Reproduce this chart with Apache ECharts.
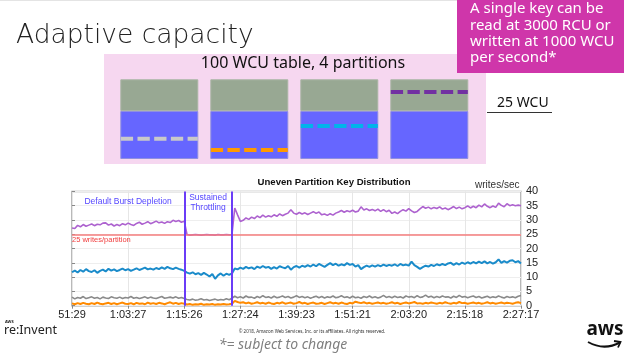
<!DOCTYPE html>
<html><head><meta charset="utf-8">
<script src="https://cdn.jsdelivr.net/npm/echarts@6/dist/echarts.min.js"></script>
<style>html,body{margin:0;padding:0;background:#fff}#c{width:624px;height:357px}</style>
</head><body><div id="c"></div>
<script>
// ---- Main chart data ----
const xTickLabels = ['51:29','1:03:27','1:15:26','1:27:24','1:39:23','1:51:21','2:03:20','2:15:18','2:27:17'];
const samplesPerTick = 20;
const yMin = 0, yMax = 40, yStep = 5;
const throttleStart = 40, throttleEnd = 57;
const partitionLimit = 25;

const purple = [
27.2,27.0,28.1,27.6,28.4,27.8,28.2,28.6,28.0,28.5,28.3,28.9,29.0,28.2,28.6,27.9,28.4,28.0,28.7,28.3,
28.9,28.4,28.1,28.8,29.2,28.5,28.9,29.4,28.7,29.1,29.6,29.0,29.3,28.8,29.4,29.1,29.9,29.5,29.8,29.2,29.6,
24.9,24.7,24.8,24.9,24.8,24.7,24.8,24.9,24.8,24.8,24.7,24.9,24.8,24.8,24.9,24.8,24.9,
34.2,31.8,29.5,29.9,30.7,30.2,31.0,30.5,31.4,30.8,31.7,31.0,31.5,31.1,31.8,31.3,32.1,31.5,32.0,32.4,
33.6,32.4,32.0,32.6,32.1,32.5,31.9,32.4,32.9,32.3,32.8,31.8,32.1,31.6,32.2,31.7,32.4,32.8,33.3,32.7,
33.2,32.9,33.4,32.8,33.1,34.6,33.5,33.9,33.3,33.7,33.2,33.8,33.0,33.6,32.9,33.4,32.3,32.8,32.2,33.0,
33.6,33.1,34.0,33.2,32.6,33.0,33.9,34.7,34.1,34.5,33.9,34.4,34.0,34.6,33.8,34.2,33.6,34.1,34.7,34.0,
34.5,33.9,34.3,34.9,34.2,34.8,34.3,35.2,34.6,35.6,34.8,34.3,34.9,34.4,35.9,35.1,34.6,35.7,35.0,35.3,
35.0,35.2,35.0
];
const blue = [
11.7,12.3,11.6,12.5,11.9,12.8,12.1,11.8,12.4,11.5,12.2,12.6,12.0,12.9,12.3,12.7,12.1,12.5,13.0,12.4,
12.8,12.2,12.6,13.1,12.5,12.9,13.3,12.7,13.0,12.6,13.2,12.8,13.4,12.9,13.6,13.1,12.8,13.3,12.9,12.6,12.2,
11.6,11.2,11.7,11.0,11.4,10.8,11.5,10.9,10.2,11.1,9.4,10.6,11.3,10.5,11.2,10.8,11.3,
13.0,12.7,13.3,12.9,13.6,13.1,13.4,12.8,13.7,13.2,13.9,13.3,13.6,12.9,13.5,13.0,13.8,13.4,13.1,13.9,
12.6,13.5,13.9,13.3,14.0,13.6,14.2,13.7,14.4,13.8,14.6,14.1,13.6,14.3,14.9,14.2,14.7,14.0,14.5,14.1,
14.9,14.3,14.6,13.7,14.2,12.8,13.5,14.0,13.6,14.1,13.7,14.2,13.8,14.4,13.9,14.3,14.0,14.5,13.9,14.6,
14.1,14.4,14.0,15.4,14.2,13.6,12.9,13.5,14.0,13.7,14.3,13.9,14.5,14.1,14.6,14.2,14.8,15.0,14.3,14.9,
14.4,15.1,14.6,15.2,14.7,15.3,14.8,15.4,14.9,15.5,14.8,15.3,14.7,15.2,16.2,15.0,15.6,15.1,15.7,15.9,
15.2,15.6,14.8
];
const gray = [
3.0,2.4,2.9,2.6,3.2,2.5,2.8,3.1,2.6,2.9,2.4,3.0,2.7,2.5,3.1,2.8,2.6,3.0,2.5,2.9,
2.7,3.2,2.6,2.9,2.5,2.8,3.1,2.6,3.0,2.7,2.5,2.9,3.2,2.6,2.8,3.0,2.7,3.1,2.6,2.9,2.5,
2.2,2.0,2.3,1.9,2.1,2.4,2.0,2.2,1.8,2.1,2.3,1.9,2.2,2.0,2.4,2.1,2.6,
3.3,2.8,3.1,2.7,3.4,2.9,3.0,2.6,3.2,2.8,3.5,2.9,3.1,2.7,3.3,2.8,3.0,3.4,2.9,3.2,
2.7,3.0,3.5,2.9,3.2,2.8,3.1,2.6,3.0,3.3,2.8,3.2,2.7,3.1,2.9,3.4,2.8,3.0,3.5,2.9,
3.1,2.7,3.3,2.8,3.0,2.6,3.2,2.9,3.4,2.8,3.1,2.7,3.0,3.6,2.9,3.2,2.8,3.3,2.9,3.1,
2.7,3.4,3.0,3.2,2.8,3.5,2.9,3.1,3.7,3.0,3.3,2.8,3.2,2.9,3.4,3.0,3.1,2.7,3.3,2.9,
3.6,3.0,3.2,2.8,3.1,3.4,2.9,3.2,2.7,3.0,3.3,2.8,3.1,2.9,3.4,3.0,2.7,3.2,2.9,3.1,
2.8,3.3,3.6
];
const orange = [
0.8,0.5,0.9,0.6,1.0,0.7,0.5,0.9,0.6,1.1,0.7,0.5,0.8,1.0,0.6,0.9,0.5,0.8,1.1,0.7,
0.6,0.9,0.5,1.0,0.7,0.8,0.5,1.1,0.7,0.9,0.6,1.0,0.8,0.5,0.9,1.2,0.7,1.0,0.6,0.9,0.7,
0.4,0.6,0.3,0.5,0.4,0.7,0.3,0.5,0.4,0.6,0.3,0.5,0.4,0.6,0.4,0.5,0.7,
1.7,1.3,1.0,1.2,0.8,1.1,0.7,0.9,1.2,0.8,1.0,0.7,1.1,0.8,0.6,1.0,0.8,1.2,0.7,0.9,
1.1,0.7,0.9,1.3,0.8,1.0,0.6,0.9,1.1,0.7,0.8,1.0,0.6,0.9,1.2,0.8,1.0,0.7,1.1,0.8,
0.6,1.0,0.8,1.4,1.1,0.9,1.2,0.8,1.0,0.7,0.9,1.1,0.8,1.0,0.7,0.9,1.2,0.8,1.0,0.6,
0.9,1.1,0.8,1.0,1.3,0.8,0.9,0.7,1.0,0.8,1.1,0.9,0.7,1.0,0.8,1.2,0.9,0.7,1.0,0.8,
1.3,0.9,1.0,0.7,0.9,1.1,0.8,1.0,0.7,0.9,1.2,0.8,1.0,0.7,0.9,1.1,0.8,1.0,0.9,0.7,
1.0,1.2,0.9
];

// ---- Partition illustration data ----
const partitions = ['P1','P2','P3','P4'];
const partitionBase = [25,25,25,25];
const partitionHeadroom = [16.5,16.5,16.5,16.5];
const partitionUsage = [10.6,4.7,17.2,34.9];
const usageColors = ['#C9C9C9','#FF9A00','#00B4EA','#7230A2'];

const xMax = (xTickLabels.length - 1) * samplesPerTick;
const toXY = arr => arr.map((v,i)=>[i,v]);
const chartFont = '"Liberation Sans", Arial, sans-serif';
const slideFont = '"Noto Sans", "Open Sans", sans-serif';

const chart = echarts.init(document.getElementById('c'), null, {renderer:'canvas'});
chart.setOption({
  animation:false,
  backgroundColor:'#ffffff',
  title:[
    {text:'Adaptive capacity', left:11, top:18,
     textStyle:{fontSize:26.5, fontWeight:200, fontFamily:'"DejaVu Sans", sans-serif', color:'#222'}},
    {text:'Uneven Partition Key Distribution', left:329, top:172, textAlign:'center',
     textStyle:{fontSize:9.6, fontWeight:'bold', fontFamily:chartFont, color:'#111'}}
  ],
  graphic:[
    {type:'rect', z:-10, shape:{x:0,y:0,width:624,height:1}, style:{fill:'#e4e4e4'}},
    {type:'rect', z:-10, shape:{x:104,y:54,width:382,height:110}, style:{fill:'#F6D7F0'}},
    {type:'rect', z:-9, shape:{x:457,y:0,width:167,height:73}, style:{fill:'#CF36AA'}},
    {type:'text', z:-8, x:470, y:1, style:{text:'A single key can be\nread at 3000 RCU or\nwritten at 1000 WCU\nper second*',
      fill:'#ffffff', font:'15px '+slideFont, lineHeight:16.2}},
    {type:'text', z:-8, x:303, y:63.5, style:{text:'100 WCU table, 4 partitions', fill:'#111',
      font:'16px '+slideFont, align:'center', verticalAlign:'middle', textAlign:'center', textVerticalAlign:'middle'}},
    {type:'text', z:-8, x:497, y:103, style:{text:'25 WCU', fill:'#111',
      font:'14px '+slideFont, verticalAlign:'middle', textVerticalAlign:'middle'}},
    {type:'line', z:-8, shape:{x1:487,y1:112.5,x2:552,y2:112.5}, style:{stroke:'#333', lineWidth:1}},
    {type:'text', x:519.5, y:185, style:{text:'writes/sec', fill:'#333', font:'10px '+chartFont,
      align:'right', verticalAlign:'middle', textAlign:'right', textVerticalAlign:'middle'}},
    {type:'text', x:5, y:322, style:{text:'AWS', fill:'#222', font:'bold 4px '+slideFont,
      verticalAlign:'middle', textVerticalAlign:'middle'}},
    {type:'text', x:4, y:330, style:{text:'re:Invent', fill:'#222', font:'12.5px '+slideFont,
      verticalAlign:'middle', textVerticalAlign:'middle'}},
    {type:'text', x:312, y:332, style:{text:'\u00a9 2018, Amazon Web Services, Inc. or its affiliates. All rights reserved.',
      fill:'#333', font:'4.5px '+slideFont, align:'center', verticalAlign:'middle', textAlign:'center', textVerticalAlign:'middle'}},
    {type:'text', x:283, y:345, style:{text:'*= subject to change', fill:'#808080',
      font:'italic 14px '+slideFont, align:'center', verticalAlign:'middle', textAlign:'center', textVerticalAlign:'middle'}},
    {type:'text', x:605, y:330, style:{text:'aws', fill:'#111',
      font:'bold 19px '+slideFont, align:'center', verticalAlign:'middle', textAlign:'center', textVerticalAlign:'middle'}},
    {type:'bezierCurve', shape:{x1:588,y1:342,x2:620,y2:342.5,cpx1:604,cpy1:351}, style:{stroke:'#111', lineWidth:2, fill:null}},
    {type:'polyline', shape:{points:[[614,341],[620.5,342],[618,347.5]]}, style:{stroke:'#111', lineWidth:1.8, fill:null}}
  ],
  grid:[
    {left:72, top:191.4, width:449, height:114.3, show:true, borderColor:'#a3a3a3', borderWidth:1.5, backgroundColor:'#fff'},
    {left:114.3, top:79.3, width:360, height:79.7}
  ],
  xAxis:[
    {gridIndex:0, type:'value', min:0, max:xMax, interval:samplesPerTick,
     axisLine:{show:false},
     axisTick:{show:true, length:3, lineStyle:{color:'#888'}},
     splitLine:{show:true, lineStyle:{color:'#e6e6e6', width:1}},
     axisLabel:{formatter:v=>xTickLabels[Math.round(v/samplesPerTick)], color:'#222', fontSize:11, fontFamily:chartFont, margin:4}},
    {gridIndex:1, type:'category', data:partitions, show:false}
  ],
  yAxis:[
    {gridIndex:0, type:'value', position:'right', min:yMin, max:yMax, interval:yStep,
     axisLine:{show:false},
     axisTick:{show:true, length:3, lineStyle:{color:'#888'}},
     splitLine:{show:true, lineStyle:{color:'#eeeeee', width:1}},
     axisLabel:{color:'#222', fontSize:11, fontFamily:chartFont, margin:5}},
    {gridIndex:1, type:'value', min:0, max:41.5, show:false}
  ],
  series:[
    {type:'bar', xAxisIndex:1, yAxisIndex:1, stack:'p', data:partitionBase, barWidth:78,
     itemStyle:{color:'#6666FF', borderColor:'#8f8fe0', borderWidth:1}},
    {type:'bar', xAxisIndex:1, yAxisIndex:1, stack:'p', data:partitionHeadroom, barWidth:78,
     itemStyle:{color:'#98A893', borderColor:'#aab5a6', borderWidth:1}},
    {type:'custom', xAxisIndex:1, yAxisIndex:1, z:5, data:toXY(partitionUsage),
     renderItem:(params, api)=>{
       const p = api.coord([api.value(0), api.value(1)]);
       const half = api.size([1,0])[0]*0.867/2 - 0.5;
       return {type:'line', shape:{x1:p[0]-half, y1:p[1], x2:p[0]+half, y2:p[1]},
               style:{stroke:usageColors[params.dataIndex], lineWidth:4, lineDash:[12.3,4.4]}};
     }},
    {name:'orange', type:'line', xAxisIndex:0, yAxisIndex:0, data:toXY(orange), showSymbol:false,
     lineStyle:{color:'#FF8A00', width:2}, z:3,
     markArea:{silent:true, itemStyle:{color:'rgba(0,0,0,0)'},
       label:{position:'insideTop', color:'#5546ff', fontSize:8.5, fontFamily:chartFont, lineHeight:10},
       data:[
         [{name:'Default Burst Depletion', xAxis:0, label:{distance:5}},{xAxis:throttleStart}],
         [{name:'Sustained\nThrottling', xAxis:throttleStart, label:{distance:1.5}},{xAxis:throttleEnd}]
       ]}},
    {name:'gray', type:'line', xAxisIndex:0, yAxisIndex:0, data:toXY(gray), showSymbol:false,
     lineStyle:{color:'#8a8a8a', width:1.6}, z:3,
     markLine:{silent:true, symbol:'none', data:[{yAxis:partitionLimit}],
       lineStyle:{color:'#F47C7C', width:1.5, type:'solid'},
       label:{show:true, position:'insideStartBottom', formatter:'25 writes/partition', color:'#F03C3C',
              fontSize:7.5, fontFamily:chartFont, distance:[0,2]}}},
    {name:'blue', type:'line', xAxisIndex:0, yAxisIndex:0, data:toXY(blue), showSymbol:false,
     lineStyle:{color:'#1A8BCA', width:2}, z:3},
    {name:'purple', type:'line', xAxisIndex:0, yAxisIndex:0, data:toXY(purple), showSymbol:false,
     lineStyle:{color:'#AD62CF', width:1.6}, z:3,
     markLine:{silent:true, symbol:'none', data:[{xAxis:throttleStart},{xAxis:throttleEnd}],
       lineStyle:{color:'#6A3CF7', width:2, type:'solid'}, label:{show:false}}}
  ]
});
</script></body></html>
